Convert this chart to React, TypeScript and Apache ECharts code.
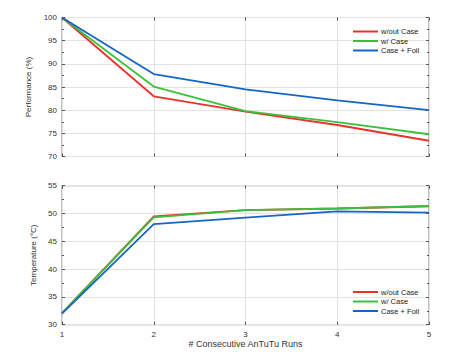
import React, { useEffect, useRef } from "react";
import * as echarts from "echarts";

const runs = [1, 2, 3, 4, 5];
const seriesNames = ["w/out Case", "w/ Case", "Case + Foil"];
const colors = ["#e8322b", "#3cc03c", "#1566c4"];

const perfWithout = [100, 83.0, 79.7, 76.8, 73.4];
const perfWith = [100, 85.1, 79.8, 77.4, 74.8];
const perfFoil = [100, 87.8, 84.5, 82.1, 80.0];

const tempWithout = [32.1, 49.5, 50.6, 50.9, 51.3];
const tempWith = [32.1, 49.3, 50.6, 50.9, 51.35];
const tempFoil = [32.0, 48.1, 49.25, 50.4, 50.15];

const FONT = "'Liberation Sans', Arial, sans-serif";

export default function App() {
  const ref = useRef<HTMLDivElement>(null);
  useEffect(() => {
    if (!ref.current) return;
    const chart = echarts.init(ref.current, null, { renderer: "svg" });
    const pair = (arr: number[]) => runs.map((r, i) => [r, arr[i]]);
    const perf = [perfWithout, perfWith, perfFoil];
    const temp = [tempWithout, tempWith, tempFoil];

    const grids = [
      { left: 62, top: 17.5, width: 367, height: 139 },
      { left: 62, top: 185.7, width: 367, height: 139 },
    ].map((g) => ({
      ...g,
      show: true,
      borderColor: "#7f7f7f",
      borderWidth: 1,
      backgroundColor: "transparent",
    }));

    const tickStyle = { lineStyle: { color: "#555", width: 1 } };
    const baseX = (gridIndex: number, showLabels: boolean, position: string) => ({
      type: "value",
      gridIndex,
      position,
      min: 1,
      max: 5,
      interval: 1,
      axisLine: { show: false },
      axisTick: { show: true, inside: true, length: 3, ...tickStyle },
      axisLabel: showLabels
        ? { show: true, color: "#333", fontFamily: FONT, fontSize: 8, margin: 6 }
        : { show: false },
      splitLine: position === "bottom" ? { show: true, lineStyle: { color: "#e3e3e3" } } : { show: false },
    });

    const baseY = (
      gridIndex: number,
      min: number,
      max: number,
      interval: number,
      position: string,
      name?: string,
      nameGap?: number
    ) => ({
      type: "value",
      gridIndex,
      position,
      min,
      max,
      interval,
      name: name || "",
      nameLocation: "middle",
      nameGap: nameGap || 20,
      nameTextStyle: { color: "#333", fontFamily: FONT, fontSize: 8 },
      axisLine: { show: false },
      axisTick: { show: true, inside: true, length: 3, ...tickStyle },
      minorTick: { show: true, splitNumber: 2, length: 2, lineStyle: { color: "#555" } },
      axisLabel:
        position === "left"
          ? { show: true, color: "#333", fontFamily: FONT, fontSize: 8, margin: 5 }
          : { show: false },
      splitLine: position === "left" ? { show: true, lineStyle: { color: "#e3e3e3" } } : { show: false },
    });

    const series: any[] = [];
    [perf, temp].forEach((set, gi) => {
      set.forEach((arr, si) => {
        series.push({
          type: "line",
          name: seriesNames[si],
          xAxisIndex: gi * 2,
          yAxisIndex: gi * 2,
          data: pair(arr),
          symbol: "none",
          lineStyle: { color: colors[si], width: 1.8 },
          itemStyle: { color: colors[si] },
          z: 3 + si,
        });
      });
    });

    const legend = (top: number) => ({
      orient: "vertical",
      left: 353,
      top,
      data: seriesNames.map((n) => ({ name: n, icon: "rect" })),
      itemWidth: 25,
      itemHeight: 2,
      itemGap: 0.5,
      selectedMode: false,
      textStyle: {
        color: "#222",
        fontFamily: FONT,
        fontSize: 7.5,
        lineHeight: 9,
        padding: [0, 0, 0, -2],
      },
      padding: 0,
    });

    chart.setOption({
      animation: false,
      backgroundColor: "#ffffff",
      grid: grids,
      legend: [legend(27), legend(287.5)],
      xAxis: [
        baseX(0, false, "bottom"),
        baseX(0, false, "top"),
        {
          ...baseX(1, true, "bottom"),
          name: "# Consecutive AnTuTu Runs",
          nameLocation: "middle",
          nameGap: 15,
          nameTextStyle: { color: "#333", fontFamily: FONT, fontSize: 9 },
        },
        baseX(1, false, "top"),
      ],
      yAxis: [
        baseY(0, 70, 100, 5, "left", "Performance (%)", 20),
        baseY(0, 70, 100, 5, "right"),
        baseY(1, 30, 55, 5, "left", "Temperature (°C)", 16),
        baseY(1, 30, 55, 5, "right"),
      ],
      series,
    });
    return () => chart.dispose();
  }, []);
  return <div ref={ref} style={{ width: 474, height: 355, position: "absolute", left: 0, top: 0 }} />;
}
